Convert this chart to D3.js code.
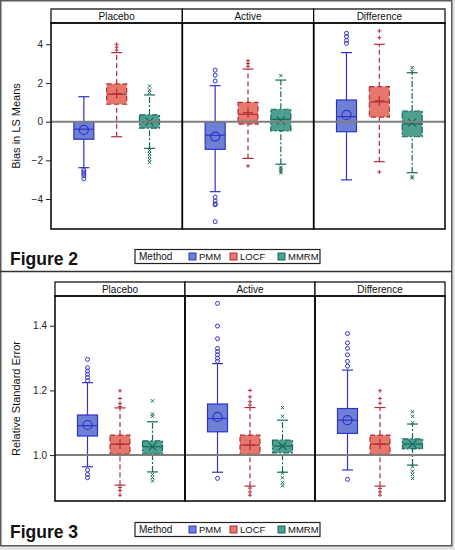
<!DOCTYPE html>
<html>
<head>
<meta charset="utf-8">
<script src="https://cdn.jsdelivr.net/npm/d3@7"></script>
<style>
  body { margin: 0; background: #e4e4e4; }
  svg { display: block; font-family: "Liberation Sans", Arial, sans-serif; }
</style>
</head>
<body>
<script>
var panels = ["Placebo", "Active", "Difference"];
var methods = ["PMM", "LOCF", "MMRM"];

// box stats per panel: [lowWhisker, q1, median, q3, highWhisker, mean]
var biasPMM  = [[-2.38, -0.91, -0.39, 0.0, 1.29, -0.43], [-3.62, -1.43, -0.70, -0.03, 1.86, -0.77], [-3.01, -0.52, 0.26, 1.12, 3.57, 0.35]];
var biasLOCF = [[-0.78, 0.90, 1.42, 1.95, 3.57, 1.45], [-1.90, -0.13, 0.38, 1.00, 2.72, 0.47], [-2.07, 0.23, 1.02, 1.81, 4.00, 1.07]];
var biasMMRM = [[-1.38, -0.34, -0.02, 0.35, 1.38, 0.0], [-2.20, -0.48, 0.12, 0.64, 2.15, 0.05], [-2.64, -0.78, -0.12, 0.55, 2.53, -0.05]];
var biasOutPMM  = [[-2.5, -2.6, -2.7, -2.8, -2.95], [2.1, 2.4, 2.66, -3.9, -4.1, -4.25, -4.3, -5.17], [4.05, 4.2, 4.4, 4.57]];
var biasOutLOCF = [[3.7, 3.85, 4.0], [2.85, 3.0, 3.15, -2.29], [4.34, 4.69, -2.6]];
var biasOutMMRM = [[1.5, 1.64, 1.84, -1.5, -1.65, -1.8, -1.95, -2.1], [2.38, -2.35, -2.45, -2.55, -2.65], [2.6, 2.79, -2.84, -2.92]];

var rsePMM  = [[0.964, 1.059, 1.091, 1.124, 1.224, 1.093], [0.947, 1.072, 1.113, 1.158, 1.283, 1.118], [0.954, 1.067, 1.108, 1.144, 1.263, 1.108]];
var rseLOCF = [[0.907, 1.003, 1.034, 1.062, 1.146, 1.034], [0.904, 1.002, 1.031, 1.062, 1.147, 1.031], [0.904, 1.002, 1.034, 1.062, 1.147, 1.034]];
var rseMMRM = [[0.948, 1.003, 1.026, 1.044, 1.103, 1.026], [0.947, 1.007, 1.028, 1.046, 1.108, 1.028], [0.969, 1.019, 1.034, 1.050, 1.096, 1.034]];
var rseOutPMM  = [[1.23, 1.24, 1.25, 1.26, 1.27, 1.296, 0.954, 0.94, 0.93], [1.29, 1.30, 1.31, 1.32, 1.33, 1.36, 1.399, 1.469, 0.928], [1.275, 1.29, 1.31, 1.33, 1.347, 1.376, 0.925]];
var rseOutLOCF = [[1.15, 1.16, 1.175, 1.199, 0.9, 0.89, 0.876], [1.155, 1.165, 1.18, 1.2, 0.898, 0.886, 0.876], [1.16, 1.175, 1.199, 0.897, 0.886, 0.876]];
var rseOutMMRM = [[1.12, 1.127, 1.168, 0.94, 0.93, 0.92], [1.12, 1.147, 0.944, 0.93, 0.915, 0.905], [1.1, 1.12, 1.134, 0.964, 0.95, 0.94, 0.928]];

var fills = ["#6e7fd6", "#e5776b", "#4f9f90"];
var lines = ["#3232c6", "#b52c3c", "#16695d"];
var dashes = [null, "5,3", "6,2,2,2"];
var marks = ["circle", "plus", "x"];

var W = 455, H = 550;
var svg = d3.select("body").append("svg").attr("width", W).attr("height", H);

svg.append("rect").attr("x", 0.75).attr("y", 0.75).attr("width", 451).attr("height", 545)
  .attr("fill", "white").attr("stroke", "#5a5a5a").attr("stroke-width", 1.5);
svg.append("line").attr("x1", 0).attr("x2", 452).attr("y1", 271.5).attr("y2", 271.5)
  .attr("stroke", "#333").attr("stroke-width", 1.5);

function marker(g, type, cx, cy, r, color, sw) {
  if (type == "circle") {
    g.append("circle").attr("cx", cx).attr("cy", cy).attr("r", r)
      .attr("fill", "none").attr("stroke", color).attr("stroke-width", sw);
  } else if (type == "plus") {
    g.append("path").attr("d", "M" + (cx - r) + "," + cy + "H" + (cx + r) + "M" + cx + "," + (cy - r) + "V" + (cy + r))
      .attr("stroke", color).attr("stroke-width", sw);
  } else {
    var k = r * 0.8;
    g.append("path").attr("d", "M" + (cx - k) + "," + (cy - k) + "L" + (cx + k) + "," + (cy + k) + "M" + (cx - k) + "," + (cy + k) + "L" + (cx + k) + "," + (cy - k))
      .attr("stroke", color).attr("stroke-width", sw);
  }
}

function drawFigure(cfg, stats, outs) {
  var g = svg.append("g");
  var x = d3.scaleBand().domain(panels).range([cfg.left, cfg.right]);
  var xm = d3.scalePoint().domain(methods).range([0, x.bandwidth()]).padding(1);
  var y = d3.scaleLinear().domain(cfg.domain).range([cfg.bottom, cfg.headBottom]);
  var boxW = 20, capW = 11;

  panels.forEach(function(p, pi) {
    var px = x(p);
    var pg = g.append("g");
    methods.forEach(function(m, mi) {
      var s = stats[mi][pi];
      var cx = px + xm(m);
      var mg = pg.append("g");
      var dash = dashes[mi];
      // whiskers
      mg.append("line").attr("x1", cx).attr("x2", cx).attr("y1", y(s[0])).attr("y2", y(s[1]))
        .attr("stroke", lines[mi]).attr("stroke-width", 1.2).attr("stroke-dasharray", dash);
      mg.append("line").attr("x1", cx).attr("x2", cx).attr("y1", y(s[3])).attr("y2", y(s[4]))
        .attr("stroke", lines[mi]).attr("stroke-width", 1.2).attr("stroke-dasharray", dash);
      [s[0], s[4]].forEach(function(v) {
        mg.append("line").attr("x1", cx - capW / 2).attr("x2", cx + capW / 2).attr("y1", y(v)).attr("y2", y(v))
          .attr("stroke", lines[mi]).attr("stroke-width", 1.2);
      });
      // box
      mg.append("rect").attr("x", cx - boxW / 2).attr("width", boxW)
        .attr("y", y(s[3])).attr("height", y(s[1]) - y(s[3]))
        .attr("fill", fills[mi]).attr("stroke", lines[mi]).attr("stroke-width", 1.2)
        .attr("stroke-dasharray", dash);
      mg.append("line").attr("x1", cx - boxW / 2).attr("x2", cx + boxW / 2).attr("y1", y(s[2])).attr("y2", y(s[2]))
        .attr("stroke", lines[mi]).attr("stroke-width", 1.2);
      marker(mg, marks[mi], cx, y(s[5]), mi == 0 ? 4.5 : 5, lines[mi], 1.2);
      outs[mi][pi].forEach(function(v) {
        marker(mg, marks[mi], cx, y(v), 2, lines[mi], 1);
      });
    });
  });

  // reference line
  g.append("line").attr("x1", cfg.left).attr("x2", cfg.right).attr("y1", y(cfg.ref)).attr("y2", y(cfg.ref))
    .attr("stroke", "#7f7f7f").attr("stroke-width", 2);

  // header strips and panel frames
  panels.forEach(function(p) {
    g.append("rect").attr("x", x(p)).attr("y", cfg.headTop).attr("width", x.bandwidth())
      .attr("height", cfg.headBottom - cfg.headTop).attr("fill", "white").attr("stroke", "black").attr("stroke-width", 1.2);
    g.append("text").attr("x", x(p) + x.bandwidth() / 2).attr("y", cfg.headBottom - 3.5)
      .attr("text-anchor", "middle").attr("font-size", "10px").attr("fill", "#111").text(p);
    g.append("rect").attr("x", x(p)).attr("y", cfg.headBottom).attr("width", x.bandwidth())
      .attr("height", cfg.bottom - cfg.headBottom).attr("fill", "none").attr("stroke", "black").attr("stroke-width", 1.5);
  });

  // y axis
  var ax = g.append("g").attr("transform", "translate(" + cfg.left + ",0)")
    .call(d3.axisLeft(y).tickValues(cfg.ticks).tickSize(5).tickPadding(3).tickFormat(d3.format(cfg.fmt)));
  ax.select(".domain").remove();
  ax.selectAll("text").attr("font-size", "10px").attr("font-family", "Liberation Sans, Arial, sans-serif").attr("fill", "#222");
  ax.selectAll("line").attr("stroke", "#222");

  g.append("text").attr("transform", "translate(20," + ((cfg.headBottom + cfg.bottom) / 2) + ") rotate(-90)")
    .attr("text-anchor", "middle").attr("font-size", "11px").attr("fill", "#111").text(cfg.title);

  // figure label
  g.append("text").attr("x", 10).attr("y", cfg.labelY).attr("font-size", "17.5px").attr("font-weight", "bold")
    .attr("fill", "#111").text(cfg.label);

  // legend
  var lg = g.append("g").attr("transform", "translate(135," + cfg.legY + ")");
  lg.append("rect").attr("width", 185).attr("height", 14).attr("fill", "white").attr("stroke", "#222").attr("stroke-width", 1.2);
  lg.append("text").attr("x", 4).attr("y", 10.8).attr("font-size", "10px").attr("fill", "#111").text("Method");
  var legX = [54, 95, 143];
  methods.forEach(function(m, mi) {
    lg.append("rect").attr("x", legX[mi]).attr("y", 3.5).attr("width", 7).attr("height", 7)
      .attr("fill", fills[mi]).attr("stroke", lines[mi]).attr("stroke-width", 1);
    lg.append("text").attr("x", legX[mi] + 10).attr("y", 10.8).attr("font-size", "9.5px").attr("fill", "#111").text(m);
  });
}

drawFigure({ left: 51, right: 445, headTop: 9, headBottom: 23, bottom: 229, domain: [-5.55, 5.1],
  ticks: [-4, -2, 0, 2, 4], fmt: "d", ref: 0, title: "Bias in LS Means", label: "Figure 2", labelY: 265, legY: 249.5 },
  [biasPMM, biasLOCF, biasMMRM], [biasOutPMM, biasOutLOCF, biasOutMMRM]);

drawFigure({ left: 55, right: 445, headTop: 282, headBottom: 296, bottom: 501, domain: [0.858, 1.492],
  ticks: [1.0, 1.2, 1.4], fmt: ".1f", ref: 1, title: "Relative Standard Error", label: "Figure 3", labelY: 538, legY: 522.5 },
  [rsePMM, rseLOCF, rseMMRM], [rseOutPMM, rseOutLOCF, rseOutMMRM]);
</script>
</body>
</html>
